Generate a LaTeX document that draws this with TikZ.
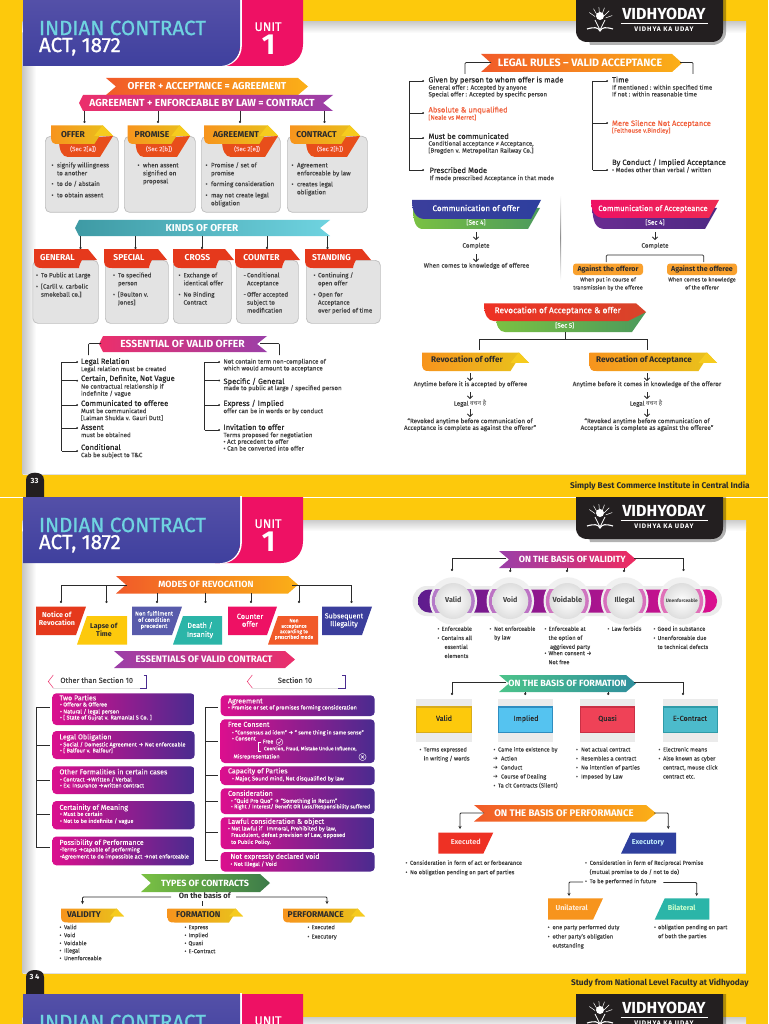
\documentclass[tikz,border=0pt]{standalone}
\usepackage{fontspec}
\setmainfont{Fira Sans}[UprightFeatures={FakeBold=0.3}]
\newfontfamily\hindi[Script=Devanagari]{Noto Sans}
\newfontfamily\dejavu{DejaVu Sans}
\newfontfamily\spaced[LetterSpace=14]{Fira Sans}
\newfontfamily\titlef[FakeBold=1.0]{Fira Sans}
\usetikzlibrary{arrows.meta}
\definecolor{yel}{HTML}{FDC90C}
\definecolor{body}{HTML}{454545}
\definecolor{dk}{HTML}{2B2B2B}
\definecolor{cardf}{HTML}{E3E3E3}
\definecolor{cardb}{HTML}{BEBEBE}
\definecolor{org}{HTML}{F15A29}
\definecolor{amb}{HTML}{FBB017}
\definecolor{pnk}{HTML}{EC2F6B}
\definecolor{pur}{HTML}{9B3FA8}
\definecolor{tl}{HTML}{3E9AA4}
\definecolor{tll}{HTML}{6FD3E0}
\definecolor{rd}{HTML}{E5391C}
\definecolor{rdo}{HTML}{E84E1B}
\definecolor{tabA}{HTML}{F7941D}
\definecolor{tabB}{HTML}{E8C41C}
\definecolor{triY}{HTML}{F6CB1E}
\definecolor{grA}{HTML}{7AC143}
\definecolor{grB}{HTML}{4C9A5C}
\definecolor{blA}{HTML}{3B3E9C}
\definecolor{blB}{HTML}{2E3F9E}
\definecolor{mag}{HTML}{DB0F8E}
\definecolor{vio}{HTML}{4A2B8F}
\definecolor{hot}{HTML}{EE1164}
\definecolor{warn}{HTML}{F1603C}
\definecolor{hdA}{HTML}{5450A8}
\definecolor{hdB}{HTML}{3F409E}
\definecolor{logoK}{HTML}{231F20}
\definecolor{tealA}{HTML}{2BB5A8}
\definecolor{redA}{HTML}{EE3124}
\definecolor{redB}{HTML}{D8442A}
\definecolor{forA}{HTML}{4CC38A}
\definecolor{forB}{HTML}{2F8F9D}
\definecolor{impF}{HTML}{55C3F0}
\definecolor{impB}{HTML}{2F8DC0}
\definecolor{quaF}{HTML}{EF4257}
\definecolor{quaB}{HTML}{C93045}
\definecolor{ecoF}{HTML}{4CBBCB}
\definecolor{ecoB}{HTML}{2F9BA8}
\definecolor{yelB}{HTML}{D8AC1C}
\definecolor{purA}{HTML}{6A2C91}
\definecolor{purB}{HTML}{4E2A84}
\definecolor{pinkB}{HTML}{EF2A52}
\definecolor{pillO}{HTML}{F9A12E}
\definecolor{dpur}{HTML}{5E1C8E}
\definecolor{cra}{HTML}{B57AC8}
\definecolor{crb}{HTML}{BC72C4}
\definecolor{crc}{HTML}{CF74C0}
\definecolor{crd}{HTML}{D86FBC}
\definecolor{cre}{HTML}{E070B8}
\newcount\nc
\def\sza{5.6}\def\szb{8}
\newcommand\Sz[2]{\def\sza{#1}\def\szb{#2}}
\newcommand\T[4][]{\global\advance\nc 1 \pgfmathsetmacro\yb{#3+0.26*\sza}\node[tx,anchor=base west,#1] (t\the\nc) at (#2,\yb) {\fontsize{\sza}{\szb}\selectfont\begin{tabular}[t]{@{}l@{}}#4\end{tabular}};}
\newcommand\C[4][]{\global\advance\nc 1 \pgfmathsetmacro\yb{#3+0.26*\sza}\node[tx,anchor=base,#1] (t\the\nc) at (#2,\yb) {\fontsize{\sza}{\szb}\selectfont\begin{tabular}[t]{@{}c@{}}#4\end{tabular}};}
\newcommand\B[5][]{\T[#1]{#2}{#4}{•}\T[#1]{#3}{#4}{#5}}
% connectors
\newcommand\Dn[4][dn]{\global\advance\nc 1 \coordinate (a\the\nc) at (#2,#3); \coordinate (b\the\nc) at (#2,#4); \draw[#1] (a\the\nc) -- (b\the\nc);}
\newcommand\Hz[4][brn]{\global\advance\nc 1 \coordinate (a\the\nc) at (#2,#4); \coordinate (b\the\nc) at (#3,#4); \draw[#1] (a\the\nc) -- (b\the\nc);}
\newcommand\El[5][dn]{\global\advance\nc 1 \coordinate (a\the\nc) at (#2,#3); \coordinate (b\the\nc) at (#4,#5); \draw[#1] (a\the\nc) -| (b\the\nc);}
\newcommand\Tr[6][br]{\Dn[brn]{#2}{#4}{#5}\foreach \yy in {#6}{\Hz[#1]{#2}{#3}{\yy}}}
% banners
\newcommand\BNP[9]{\pgfmathsetmacro\ym{(#3+#4)/2}\pgfmathsetmacro\xa{#2-10}\pgfmathsetmacro\xb{#1+10}\path[left color=#5,right color=#6] (#1,#3)--(\xa,#3)--(#2,\ym)--(\xa,#4)--(#1,#4)--(\xb,\ym)--cycle; \Sz{#8}{#8}\C[text=white]{#7}{\ym+.8}{\textbf{#9}}}
\newcommand\BPN[9]{\pgfmathsetmacro\ym{(#3+#4)/2}\pgfmathsetmacro\xa{#1+4}\pgfmathsetmacro\xb{#2-10}\path[left color=#5,right color=#6] (\xa,#3)--(#2,#3)--(\xb,\ym)--(#2,#4)--(\xa,#4)--(#1,\ym)--cycle; \Sz{#8}{#8}\C[text=white]{#7}{\ym+.8}{\textbf{#9}}}
% orange tab
\newcommand\Tab[4]{\pgfmathsetmacro\ym{#3+.56*(#4-#3)}\pgfmathsetmacro\da{#2-.55*(#4-#3)}\pgfmathsetmacro\db{#2-.72*(#4-#3)}\pgfmathsetmacro\dc{#2-1.0*(#4-#3)}\pgfmathsetmacro\de{#1+7}\pgfmathsetmacro\df{#1+2}\pgfmathsetmacro\yq{#4-1}
\path[left color=tabA,right color=tabB] (#1,#3)--(\da,#3)--(#2,\ym)--(\db,\ym)--(\dc,#4)--(\de,#4) .. controls (\df,#4) and (#1,\yq) .. (#1,\ym)--cycle;
\fill[triY] (\da,#3)--(#2,\ym)--(\dc,\ym)--cycle;}
\newcommand\Card[4]{\global\advance\nc 1 \node[card,minimum width=#2pt-#1pt,minimum height=#4pt-#3pt,anchor=north west] (c\the\nc) at (#1,#3) {};}
% red tab
\newcommand\RT[4]{\pgfmathsetmacro\pa{#2-9}\pgfmathsetmacro\pb{#2-15}\pgfmathsetmacro\pc{#2-18}\pgfmathsetmacro\pd{#1+8}
\fill[rd] (#1,249)--(\pa,249)--(#2,260)--(\pb,260) .. controls (\pc,265) and (\pc,268) .. (\pc,268)--(\pd,268) .. controls (#1,268) and (#1,264) .. (#1,258)--cycle;
\Sz{8.5}{9}\C[text=white]{#3}{258.7}{\textbf{#4}}}
% parallelograms
\newcommand\PA[5]{\pgfmathsetmacro\pa{#2-10}\fill[#5] (#1,#3)--(#2,#3)--(\pa,#4)--(#1,#4)--cycle;}
\newcommand\PB[5]{\pgfmathsetmacro\pa{#1+10}\fill[#5] (\pa,#3)--(#2,#3)--(#2,#4)--(#1,#4)--cycle;}
% gradient box
\newcommand\GB[4]{\path[left color=mag,right color=vio,rounded corners=4pt] (#1,#3) rectangle (#2,#4);}
% header
\newcommand\Head[1]{\begin{scope}[shift={(0,#1)}]
\fill[hot] (242,0)--(303,0)--(303,44) .. controls (303,57) and (294,66) .. (281,66)--(215,66)--(235,30)--cycle;
\draw[white,line width=1.6] (241,-1)--(241,46) .. controls (241,57) and (232,66) .. (220,66);
\path[top color=hdA,bottom color=hdB] (23,0)--(240,0)--(240,46) .. controls (240,57) and (231,66) .. (220,66)--(23,66)--cycle;
\Sz{20.6}{21}\T[text=tll]{39}{29.7}{\titlef INDIAN CONTRACT}
\Sz{20.6}{21}\T[text=white]{39}{46.7}{\titlef ACT, 1872}
\Sz{12.5}{13}\C[text=white]{268}{27.7}{UNIT}
\Sz{29}{29}\C[text=white]{268.5}{47}{\textbf{1}}
\fill[black,opacity=.3] (580,0)--(726,0)--(726,32) .. controls (726,40) and (720,45) .. (712,45)--(590,45)--cycle;
\fill[logoK] (576,0)--(723,0)--(723,30) .. controls (723,38) and (719,42) .. (711,42)--(588,42) .. controls (580,42) and (576,38) .. (576,30)--cycle;
\foreach \ang in {20,45,...,160}{\draw[white,line width=.5] ({600+6*cos(\ang)},{20-6*sin(\ang)})--({600+13*cos(\ang)},{20-13*sin(\ang)});}
\fill[white] (600,16) circle (4);
\draw[white,line width=1.1] (587,29) .. controls (594,27) and (598,27) .. (600,31) .. controls (602,27) and (606,27) .. (613,29);
\draw[white,line width=.8] (595,20)--(600,30)--(605,20);
\Sz{16}{16}\C[text=white]{664}{15.5}{\textbf{VIDHYODAY}}
\draw[white,line width=.7] (620.5,23.4)--(708,23.4);
\Sz{6.6}{7}\C[text=white]{664}{30}{\spaced\bfseries VIDHYA KA UDAY}
\end{scope}}
\newcommand\Panel[2]{\fill[white] (22.5,#1) rectangle (746,#2);
\shade[left color=black!22,right color=white] (22.5,#1) rectangle (36,#2);
\shade[top color=black!20,bottom color=white] (22.5,#1) rectangle (746,{#1+11});
\draw[black!12,line width=.8] (22.5,#2)--(746,#2);}
\newcommand\Conc[4]{% circles
\fill[black!6] (#1,601) circle (23.8);
\begin{scope}\clip ({#1-30},589.5) rectangle ({#1+30},612.5);\fill[#2] (#1,601) circle (21.5);\end{scope}
\shade[inner color=white,outer color=black!13] (#1,601) circle (18);
\Sz{#3}{#3}\C[text=body]{#1}{601}{\textbf{#4}}}
\tikzset{
 tx/.style={inner sep=0pt,outer sep=0pt},
 card/.style={draw=cardb,fill=cardf,line width=.7pt,rounded corners=5pt,inner sep=0pt},
 dn/.style={draw=dk,line width=.7pt,-{Circle[length=2.2pt]}},
 tipdn/.style={draw=dk,line width=.8pt,-{Stealth[length=3pt,width=3pt]},rounded corners=1pt},
 br/.style={draw=dk,line width=.7pt,-{Circle[length=1.8pt]}},
 brn/.style={draw=dk,line width=.8pt},
 big/.style={draw=dk,line width=.8pt,-{Straight Barb[length=2.6pt,width=5.5pt]}},
 pl/.style={line width=.7pt,draw=dk,rounded corners=1pt}
}
\begin{document}
\begin{tikzpicture}[x=1pt,y=-1pt]
\useasboundingbox (0,0) rectangle (768,1024);
\clip (0,0) rectangle (768,1024);
\fill[yel] (0,0) rectangle (768,1024);
\Panel{22}{474}
\Panel{520}{973}
\Panel{1017}{1030}
\draw[white,line width=.8] (0,497.3)--(768,497.3);
\Head{0}
%
% ---------- PAGE 33 LEFT
\BNP{106}{308}{78}{95}{org}{amb}{207}{10}{OFFER + ACCEPTANCE = AGREEMENT}
\BPN{79}{333}{95}{111}{pnk}{pur}{202}{10.2}{AGREEMENT + ENFORCEABLE BY LAW = CONTRACT}
\Dn{84.5}{111}{123}\Dn{158}{111}{123}\Dn{240}{111}{123}\Dn{324.5}{111}{123}
\Card{45}{118}{136}{212}\Card{124}{195}{136}{212}\Card{201}{280}{136}{212}\Card{287}{367}{136}{212}
\newcommand\Hh[2]{\Sz{8.5}{9}\C[text=dk]{#1}{135}{\textbf{#2}}}
\newcommand\Hs[2]{\Sz{6.2}{7}\C[text=white!80!red]{#1}{149.5}{#2}}
\fill[rdo] (59,140)--(113,136)--(100,157)--(68,157) .. controls (62,157) and (59,150) .. (59,140)--cycle;
\Tab{51}{113}{125.3}{144}\Hh{73}{OFFER}\Hs{83}{(Sec 2[a])}
\fill[rdo] (135.5,140)--(190,136)--(177,157)--(144,157) .. controls (138,157) and (135.5,150) .. (135.5,140)--cycle;
\Tab{127.5}{190}{125.3}{144}\Hh{152}{PROMISE}\Hs{159}{(Sec 2[b])}
\fill[rdo] (222,140)--(278,136)--(265,157)--(231,157) .. controls (225,157) and (222,150) .. (222,140)--cycle;
\Tab{204}{278}{125.3}{144}\Hh{236}{AGREEMENT}\Hs{247}{(Sec 2[e])}
\fill[rdo] (306,140)--(360,136)--(347,157)--(315,157) .. controls (309,157) and (306,150) .. (306,140)--cycle;
\Tab{290}{360}{125.3}{144}\Hh{316.5}{CONTRACT}\Hs{330}{(Sec 2[h])}
\Sz{6.3}{8}
\B[text=body]{51.5}{57}{165.7}{signify willingness\\to another}
\B[text=body]{51.5}{57}{184.3}{to do / abstain}
\B[text=body]{51.5}{57}{195.7}{to obtain assent}
\B[text=body]{137.5}{143}{165.7}{when assent\\signified on\\proposal}
\B[text=body]{205.5}{211}{165.7}{Promise / set of\\promise}
\B[text=body]{205.5}{211}{184.5}{forming consideration}
\B[text=body]{205.5}{211}{195.7}{may not create legal\\obligation}
\B[text=body]{291.5}{297}{165.7}{Agreement\\enforceable by law}
\B[text=body]{291.5}{297}{184.7}{creates legal\\obligation}
%
\BPN{75}{330}{220}{236}{tl}{tll}{202}{10}{KINDS OF OFFER}
\Dn{80.5}{236}{249}\Dn{135.5}{236}{249}\Dn{202}{236}{249}\Dn{267}{236}{249}\Dn{327.5}{236}{249}
\Card{32.5}{98}{260}{323}\Card{105}{168}{260}{323}\Card{173}{231}{260}{323}\Card{236}{298}{260}{323}\Card{306}{380}{260}{323}
\RT{34}{97}{57.5}{GENERAL}\RT{104}{167}{129}{SPECIAL}\RT{173}{234}{197.5}{CROSS}\RT{235}{300}{261.5}{COUNTER}\RT{305}{371}{331.5}{STANDING}
\Sz{6.2}{8}
\B[text=body]{36}{41}{275.7}{To Public at Large}
\B[text=body]{36}{41}{287}{[Carlil v. carbolic\\smokeball co.]}
\B[text=body]{113}{118}{275.7}{To specified\\person}
\B[text=body]{113}{118}{295}{[Boulton v.\\Jones]}
\B[text=body]{178.5}{183.5}{275.7}{Exchange of\\identical offer}
\B[text=body]{178.5}{183.5}{295}{No Binding\\Contract}
\T[text=body]{243.5}{275.7}{-}\T[text=body]{247}{275.7}{Conditional\\Acceptance}
\T[text=body]{243.5}{295}{-}\T[text=body]{247}{295}{Offer accepted\\subject to\\modification}
\B[text=body]{313.5}{318}{275.7}{Continuing /\\open offer}
\B[text=body]{313.5}{318}{295}{Open for\\Acceptance\\over period of time}
%
\BPN{99}{267}{336}{352}{pnk}{pur}{182.5}{10.3}{ESSENTIAL OF VALID OFFER}
\El[pl]{101}{343.5}{88.5}{355}\El[pl]{260}{343.5}{279.5}{355}
\Tr{61.5}{78}{362}{451}{362,380.7,405,428,451}
\Tr{204.5}{220}{362}{430}{362,380.5,405,430}
\newcommand\Hd[3]{\Sz{7.6}{7.6}\T[text=dk]{#1}{#2}{#3}}
\newcommand\Sb[4][body]{\Sz{6.2}{6.6}\T[text=#1]{#2}{#3}{#4}}
\Hd{81}{362}{Legal Relation}\Sb{81}{369.5}{Legal relation must be created}
\Hd{81}{379}{Certain, Definite, Not Vague}\Sb{81}{387}{No contractual relationship if\\indefinite / vague}
\Hd{81}{404}{Communicated to offeree}\Sb{81}{411.5}{Must be communicated\\{}[Lalman Shukla v. Gauri Dutt]}
\Hd{81}{428}{Assent}\Sb{81}{435.5}{must be obtained}
\Hd{81}{448}{Conditional}\Sb{81}{455.5}{Cab be subject to T\&C}
\Sb{223.5}{362}{Not contain term non-compliance of\\which would amount to acceptance}
\Hd{223.5}{382}{Specific / General}\Sb{223.5}{388.5}{made to public at large / specified person}
\Hd{223.5}{404}{Express / Implied}\Sb{223.5}{411.5}{offer can be in words or by conduct}
\Hd{223.5}{428}{Invitation to offer}\Sb{223.5}{435.5}{Terms proposed for negotiation\\• Act precedent to offer\\• Can be converted into offer}
%
% ---------- PAGE 33 RIGHT
\BNP{481}{682}{54}{72}{org}{amb}{580}{10.7}{LEGAL RULES – VALID ACCEPTANCE}
\El[pl]{491}{62.5}{465}{74}\El[pl]{680}{62.5}{693}{74}
\Tr{409}{424}{81}{170}{81,113,138,170}
\Tr{592.7}{608}{81}{170}{81,123,170}
\Hd{428.5}{80.5}{Given by person to whom offer is made}\Sb{428.5}{88}{General offer : Accepted by anyone\\Special offer : Accepted by specific person}
\Sz{7.6}{7.6}\T[text=warn]{428.5}{110.5}{Absolute \& unqualified}\Sb[warn]{428.5}{118}{[Neale vs Merret]}
\Hd{428.5}{137}{Must be communicated}\Sb{428.5}{144}{Conditional acceptance ≠ Acceptance,\\{}[Brogden v. Metropolitan Railway Co.]}
\Hd{429.5}{171}{Prescribed Mode}\Sb{429.5}{178.5}{If mode prescribed Acceptance in that mode}
\Hd{612}{80.5}{Time}\Sb{612}{88}{If mentioned : within specified time\\If not : within reasonable time}
\Sz{7.6}{7.6}\T[text=warn]{612}{124}{Mere Silence Not Acceptance}\Sb[warn]{612}{131}{[Felthouse v.Bindley]}
\Hd{612}{163}{By Conduct / Implied Acceptance}\Sb{612}{170.5}{• Modes other than verbal / written}
%
\path[left color=grA,right color=grB] (413,208)--(540,208)--(528,229)--(423,229) .. controls (416,229) and (413,222) .. (413,208)--cycle;
\path[left color=blA,right color=blB] (412,200)--(541,200)--(531,219)--(425,219) .. controls (416,219) and (412,212) .. (412,200)--cycle;
\Sz{8.1}{8}\C[text=white]{476}{209}{Communication of offer}
\Sz{6.3}{7}\C[text=white]{476}{223}{[Sec 4]}
\Dn[big]{476}{232}{240}
\Sz{6.3}{7}\C[text=body]{476}{246}{Complete}
\Dn[big]{476}{254}{262}
\C[text=body]{476.5}{266}{When comes to knowledge of offeree}
\shade[top color=white,bottom color=white,middle color=black!45] (560.2,195) rectangle (561.2,280);
\path[left color=purA,right color=purB] (592.5,208)--(717,208)--(705,229)--(605,229) .. controls (596,229) and (592.5,222) .. (592.5,208)--cycle;
\path[left color=hot,right color=pinkB] (591,200)--(719,200)--(709,218)--(604,218) .. controls (595,218) and (591,211) .. (591,200)--cycle;
\Sz{7.7}{8}\C[text=white]{653}{209}{Communication of Accepteance}
\Sz{6.3}{7}\C[text=white]{655}{223}{[Sec 4]}
\Dn[big]{655}{232}{240}
\C[text=body]{655}{246}{Complete}
\coordinate (bkL) at (606.3,262);\coordinate (bkT) at (655,255);\coordinate (bkR) at (703.7,262);
\draw[pl] (bkL) |- (bkT) -| (bkR);
\fill[pillO,rounded corners=3pt] (573,263.5) rectangle (643,275);
\fill[pillO,rounded corners=3pt] (667,263.5) rectangle (737,275);
\Sz{7.1}{7}\C[text=dk]{608}{269.3}{\textbf{Against the offeror}}\C[text=dk]{702}{269.3}{\textbf{Against the offeree}}
\Sz{5.6}{8}\C[text=body]{608}{280}{When put in course of\\transmission by the offeree}\C[text=body]{702}{280}{When comes to knowledge\\of the offeror}
%
\path[left color=grA,right color=grB] (496,315)--(646,312)--(632,332)--(505,332) .. controls (499,332) and (496,326) .. (496,315)--cycle;
\path[left color=redA,right color=redB] (484,303.3)--(636,303.3)--(646,312)--(628,321)--(494,321) .. controls (488,321) and (484,315) .. (484,303.3)--cycle;
\Sz{8.4}{8}\C[text=white]{557.7}{311}{Revocation of Acceptance \& offer}
\Sz{6.3}{7}\C[text=white]{564.7}{326}{[Sec 5]}
\coordinate (rvS) at (565.7,332);\coordinate (rvM) at (565.7,339.5);\coordinate (rvL) at (479.5,350);\coordinate (rvR) at (647,350);
\draw[brn] (rvS)--(rvM);\draw[brn] (rvL) |- (rvM) -| (rvR);
\Tab{422}{529}{352.5}{371}\Sz{8.2}{8}\C[text=dk]{467}{360.5}{\textbf{Revocation of offer}}
\Tab{589.5}{717}{352.5}{371}\C[text=dk]{644}{360.5}{\textbf{Revocation of Acceptance}}
\Dn[big]{470}{373}{381}\Dn[big]{470}{392}{399}\Dn[big]{470}{409}{417}
\Dn[big]{647}{373}{381}\Dn[big]{647}{392}{399}\Dn[big]{647}{409}{417}
\Sz{6.3}{6.2}
\C[text=body]{470.5}{384.5}{Anytime before it is accepted by offeree}
\C[text=body]{470}{404}{Legal {\hindi वचन है}}
\C[text=body]{470}{421.5}{“Revoked anytime before communication of\\Acceptance is complete as against the offeror”}
\C[text=body]{647}{384.5}{Anytime before it comes in knowledge of the offeror}
\C[text=body]{646}{404}{Legal {\hindi वचन है}}
\C[text=body]{647}{421.5}{“Revoked anytime before communication of\\Acceptance is complete as against the offeree”}
% footer
\fill[logoK] (26,497) -- (26,480) .. controls (26,475) and (30,472.7) .. (35,472.7) .. controls (40,472.7) and (44,475) .. (44,480) -- (44,497)--cycle;
\Sz{7.5}{8}\C[text=white]{34.5}{481.7}{\textbf{33}}
\Sz{8.3}{8}\T[text=dk]{570}{486}{\textbf{Simply Best Commerce Institute in Central India}}
%
% ---------- PAGE 34
\Head{497}
\BNP{116}{298}{576}{593.5}{org}{amb}{206}{9}{MODES OF REVOCATION}
\El[dn]{127}{585.5}{61}{603}
\El[dn]{106.5}{585.5}{106.5}{603}
\El[dn]{292}{585.5}{351.5}{603}
\El[dn]{299}{585.5}{299}{603}
\Dn{157}{593}{603}\Dn{205.5}{593}{603}\Dn{251}{593}{603}
\PA{36}{86}{606.7}{635}{rd}
\Sz{7.1}{6.4}\C[text=white]{57}{616}{\textbf{Notice of}\\\textbf{Revocation}}
\PB{77}{127}{616}{644.5}{yel}
\Sz{7}{8}\C[text=dk]{104}{627}{\textbf{Lapse of}\\\textbf{Time}}
\PA{132}{182}{606.7}{635}{blA!85!white}
\Sz{5.8}{6}\C[text=white]{154}{614}{Non fulfilment\\of condition\\precedent}
\PB{173}{222}{616}{644.5}{tealA}
\Sz{7.3}{9}\C[text=white]{200}{626}{Death /\\Insanity}
\PA{228}{277}{606.7}{635}{hot}
\Sz{7.4}{7.5}\C[text=white]{250}{617}{Counter\\offer}
\PB{268}{318}{616}{644.5}{org}
\Sz{5}{5.4}\C[text=white]{294}{621}{Non\\acceptance\\according to\\prescribed mode}
\PA{322}{372}{606.7}{635}{blA}
\Sz{7.1}{7.5}\C[text=white]{344}{616.5}{Subsequent\\Illegality}
\BNP{114}{295}{651}{668}{pur}{pnk}{204}{9.4}{ESSENTIALS OF VALID CONTRACT}
% section labels
\newcommand\SecL[4]{\pgfmathsetmacro\pa{#1+5}\pgfmathsetmacro\pb{#2-3}\pgfmathsetmacro\pc{#2-7}
\draw[pnk,line width=.5] (\pa,675)--(#1,681.5)--(\pa,688);
\draw[black!12,line width=.5] (\pa,688.3)--(\pc,688.3);
\draw[vio,line width=1] (\pb,675)--(#2,675)--(#2,688.3)--(\pc,688.3);
\Sz{7.4}{7}\C[text=body]{#3}{681}{#4}}
\SecL{48.3}{146.7}{96.7}{Other than Section 10}
\SecL{247.3}{345}{295}{Section 10}
\Dn[brn]{36.5}{707}{847.7}\Hz{36.5}{50}{707}\Hz{36.5}{50}{745}\Hz{36.5}{50}{780}\Hz{36.5}{50}{814.5}\Hz{36.5}{50}{847.7}
\Dn[brn]{205}{707.5}{860.5}\Hz{205}{218}{707.5}\Hz{205}{218}{741}\Hz{205}{218}{775}\Hz{205}{218}{801.5}\Hz{205}{218}{832.5}\Hz{205}{218}{860.5}
\GB{52.3}{194.7}{693.3}{725}\GB{52.3}{194.7}{731}{759}\GB{52.3}{194.7}{766.3}{794}\GB{52.3}{194.7}{801}{829.3}\GB{52.3}{194.7}{836.5}{865.3}
\GB{220.7}{374.7}{695.3}{716}\GB{220.7}{374.7}{719.3}{763}\GB{220.7}{374.7}{766.3}{785}\GB{220.7}{374.7}{788.3}{814}\GB{220.7}{374.7}{817.3}{849}\GB{220.7}{374.7}{852}{871.5}
\newcommand\Wh[3]{\Sz{7.1}{7}\T[text=white!88!pink]{#1}{#2}{#3}}
\newcommand\Ws[3]{\Sz{5.6}{6.4}\T[text=white!92!pink]{#1}{#2}{#3}}
\newcommand\Wt[4]{\Sz{#1}{6.4}\T[text=white!92!pink]{#2}{#3}{#4}}
\Wh{59.5}{698.5}{Two Parties}\Ws{60}{705}{• Offeror \& Offeree}\Ws{60}{712}{• Natural / legal person}\Ws{60}{718}{• [ State of Gujrat v. Ramanlal S Co. ]}
\Wh{59.5}{737.5}{Legal Obligation}\Ws{60}{745}{• Social / Domestic Agreement → Not enforceable}\Ws{60}{751}{• [ Balfour v. Balfour]}
\Wh{59.5}{772.5}{Other Formalities in certain cases}\Ws{60}{780}{• Contract →Written / Verbal}\Ws{60}{786}{• Ex: Insurance →written contract}
\Wh{59.5}{808}{Certainity of Meaning}\Ws{60}{814.5}{• Must be certain}\Ws{60}{821.5}{• Not to be indefinite / vague}
\Wh{59.5}{843}{Possibility of Performance}\Ws{60}{850}{•Terms →capable of performing}\Ws{60}{857}{•Agreement to do impossible act →not enforceable}
\Wh{228}{701.5}{Agreement}\Ws{228}{708}{• Promise or set of promises forming consideration}
\Wh{228}{725}{Free Consent}\Wt{5.4}{232}{733}{• “Consensus ad idem” → “ some thing in same sense”}\Ws{232}{739}{• Consent}
\Ws{262.7}{742}{Free}\draw[white,line width=.4] (279.5,742) circle (3.4);\draw[white,line width=.5] (277.8,742) -- (279,743.5) -- (281.3,740.3);
\draw[white,line width=.9] (261,742)--(258,742)--(258,751.5)--(261,751.5);
\Wt{4.9}{264}{749}{Coercion, Fraud, Mistake Undue Influence,}\Ws{233.5}{757}{Misrepresentation}
\draw[white,line width=.4] (362.5,757) circle (3.6);\draw[white,line width=.5] (361,755.5)--(364,758.5) (364,755.5)--(361,758.5);
\Wh{228}{771.5}{Capacity of Parties}\Ws{232}{779}{• Major, Sound mind, Not disqualified by law}
\Wh{228}{794}{Consideration}\Ws{231}{801.3}{• “Quid Pro Quo” → “Something in Return”}\Wt{5.3}{231}{807}{• Right / Interest/ Benefit OR Loss/Responsibility suffered}
\Wh{228}{822}{Lawful consideration \& object}\Ws{228}{829}{• Not lawful if \ \ Immoral, Prohibited by law,}\Ws{231}{835.5}{Fraudulent, defeat provision of Law, opposed}\Ws{231}{842.5}{to Public Policy.}
\Wh{230.5}{857}{Not expressly declared void}\Ws{230.5}{864.5}{• Not Illegal / Void}
%
\BNP{141}{270}{874}{892}{grA}{grB!80!black}{205}{9}{TYPES OF CONTRACTS}
\Sz{7.6}{7}\C[text=dk]{205}{897}{\textbf{On the basis of}}
\El[tipdn]{171}{897}{82.5}{904}\El[tipdn]{236}{897}{327}{904}
\Dn[brn]{202}{901}{906}
\Tab{61}{124}{908.5}{922.5}\Sz{8.4}{8}\C[text=dk]{84}{915.5}{\textbf{VALIDITY}}
\Tab{167.5}{243}{908.5}{922.5}\C[text=dk]{198.3}{915.5}{\textbf{FORMATION}}
\Tab{283}{365}{908.5}{922.5}\C[text=dk]{315.7}{915.5}{\textbf{PERFORMANCE}}
\Sz{5.7}{8}
\B[text=body]{59.5}{64}{927.7}{Valid}\B[text=body]{59.5}{64}{935.7}{Void}\B[text=body]{59.5}{64}{943.7}{Voidable}\B[text=body]{59.5}{64}{951}{Illegal}\B[text=body]{59.5}{64}{958.7}{Unenforceable}
\B[text=body]{184.5}{188.5}{927.7}{Express}\B[text=body]{184.5}{188.5}{935.7}{Implied}\B[text=body]{184.5}{188.5}{943.7}{Quasi}\B[text=body]{184.5}{188.5}{951.7}{E-Contract}
\B[text=body]{307.5}{311.5}{927.7}{Executed}\B[text=body]{307.5}{311.5}{937}{Executory}
% footer 34
\fill[logoK] (26,994) -- (26,977) .. controls (26,972) and (30,970) .. (35,970) .. controls (40,970) and (44,972) .. (44,977) -- (44,994)--cycle;
\Sz{7.5}{8}\C[text=white]{34.5}{978}{\textbf{3 4}}
\Sz{8.3}{8}\T[text=dk]{571}{983}{\textbf{Study from National Level Faculty at Vidhyoday}}
%
% ---------- PAGE 34 RIGHT
\BNP{499}{636}{551}{568}{pur}{pnk!90!red}{572.3}{9}{ON THE BASIS OF VALIDITY}
\El[dn]{506}{558}{452}{571}\El[dn]{634}{558}{683.5}{571}
\Dn{510.3}{568}{572}\Dn{567}{568}{572}\Dn{624}{568}{572}
\fill[black!8,rounded corners=14pt] (412.7,586) rectangle (722,616);
\path[left color=dpur,right color=mag,rounded corners=11pt] (418,589.5) rectangle (717,612.5);
\Conc{453.3}{cra}{7.2}{Valid}
\Conc{510.3}{crb}{7.2}{Void}
\Conc{567.3}{crc}{7.4}{Voidable}
\Conc{624.7}{crd}{7.2}{Illegal}
\Conc{681.7}{cre}{4.8}{Unenforceable}
\Sz{5.7}{9}
\B[text=body]{437.5}{441.5}{629.3}{Enforceable}\B[text=body]{437.5}{441.5}{638.5}{Contains all\\\ \ essential\\\ \ elements}
\B[text=body]{489.5}{494}{629.3}{Not enforceable}\T[text=body]{494}{638}{by law}
\B[text=body]{544.5}{548.5}{629.3}{Enforceable at\\the option of\\\ aggrieved party}
\B[text=body]{544.5}{548.5}{653.7}{When consent →\\Not free}
\B[text=body]{607.5}{611.5}{629.3}{Law forbids}
\B[text=body]{653.5}{657.5}{629.3}{Good in substance}\B[text=body]{653.5}{657.5}{638.5}{Unenforceable due\\to technical defects}
%
\BNP{499}{636}{675}{692}{forA}{forB}{567.5}{9}{ON THE BASIS OF FORMATION}
\El[dn]{506}{682}{452}{695}\El[dn]{634}{682}{683}{695}
\Dn{525.3}{692}{695}\Dn{608.3}{692}{695}
\newcommand\FB[6]{\fill[black!8] (#1,699) rectangle (#2,742);\draw[#4,fill=#3,line width=1.1] ({#1+.5},707) rectangle ({#2-.5},732.7);\Sz{7.2}{7}\C[text=dk]{#5}{719}{#6}}
\FB{415.7}{471.7}{yel}{yelB}{444}{Valid}
\FB{498}{553.3}{impF}{impB}{526}{Implied}
\FB{580}{635.3}{quaF}{quaB}{607.5}{Quasi}
\FB{662.7}{718}{ecoF}{ecoB}{690}{E-Contract}
\Sz{5.7}{9}
\B[text=body]{419.5}{423.7}{750}{Terms expressed\\in writing / words}
\B[text=body]{493.5}{498}{750}{Came into existence by}
\T[text=dk]{493}{759}{{\dejavu ➔}}\T[text=body]{501}{759}{Action}
\T[text=dk]{493}{768}{{\dejavu ➔}}\T[text=body]{501}{768}{Conduct}
\T[text=dk]{493}{777}{{\dejavu ➔}}\T[text=body]{501}{777}{Course of Dealing}
\B[text=body]{493.5}{498}{786}{Ta cit Contracts (Silent)}
\B[text=body]{576}{581}{750}{Not actual contract}\B[text=body]{576}{581}{759}{Resembles a contract}\B[text=body]{576}{581}{768}{No intention of parties}\B[text=body]{576}{581}{777}{Imposed by Law}
\B[text=body]{658.5}{663}{750}{Electronic means}\B[text=body]{658.5}{663}{759}{Also known as cyber\\contract, mouse click\\contract etc.}
%
\BNP{474}{656}{805}{821.5}{org}{amb}{564}{9.6}{ON THE BASIS OF PERFORMANCE}
\El[tipdn]{484}{813}{460}{829}\El[tipdn]{654}{813}{668.3}{829}
\PA{438.3}{493.3}{832.5}{853.7}{redA}
\Sz{7.2}{7}\C[text=white!85!red]{465.7}{843}{\textbf{Executed}}
\PB{621}{676}{832.5}{853.7}{blB}
\C[text=white!75!cyan]{648}{843}{\textbf{Executory}}
\Sz{5.7}{9.2}
\B[text=body]{405.5}{410}{863.3}{Consideration in form of act or forbearance}
\B[text=body]{405.5}{410}{872.7}{No obligation pending on part of parties}
\B[text=body]{585}{589.7}{863.3}{Consideration in form of Reciprocal Promise\\(mutual promise to do / not to do)}
\B[text=body]{585}{589.7}{881.7}{To be performed in future}
\El[tipdn]{583}{882}{569}{896}\El[tipdn]{663.3}{882.5}{696.7}{896}
\PA{548}{603}{898.3}{919.7}{tabA}
\Sz{7.2}{7}\C[text=white!85!orange]{571.7}{909}{\textbf{Unilateral}}
\PB{654.7}{709.3}{898.3}{919.7}{tealA}
\C[text=white!80!green]{681.7}{909}{\textbf{Bilateral}}
\Sz{5.7}{9}
\B[text=body]{547.7}{552.5}{927.7}{one party performed duty}
\B[text=body]{547.7}{552.5}{937}{other party’s obligation\\outstanding}
\B[text=body]{654}{658}{927.7}{obligation pending on part\\of both the parties}
%
% ---------- PAGE 35 (cut off)
\Head{994}
\end{tikzpicture}
\end{document}
